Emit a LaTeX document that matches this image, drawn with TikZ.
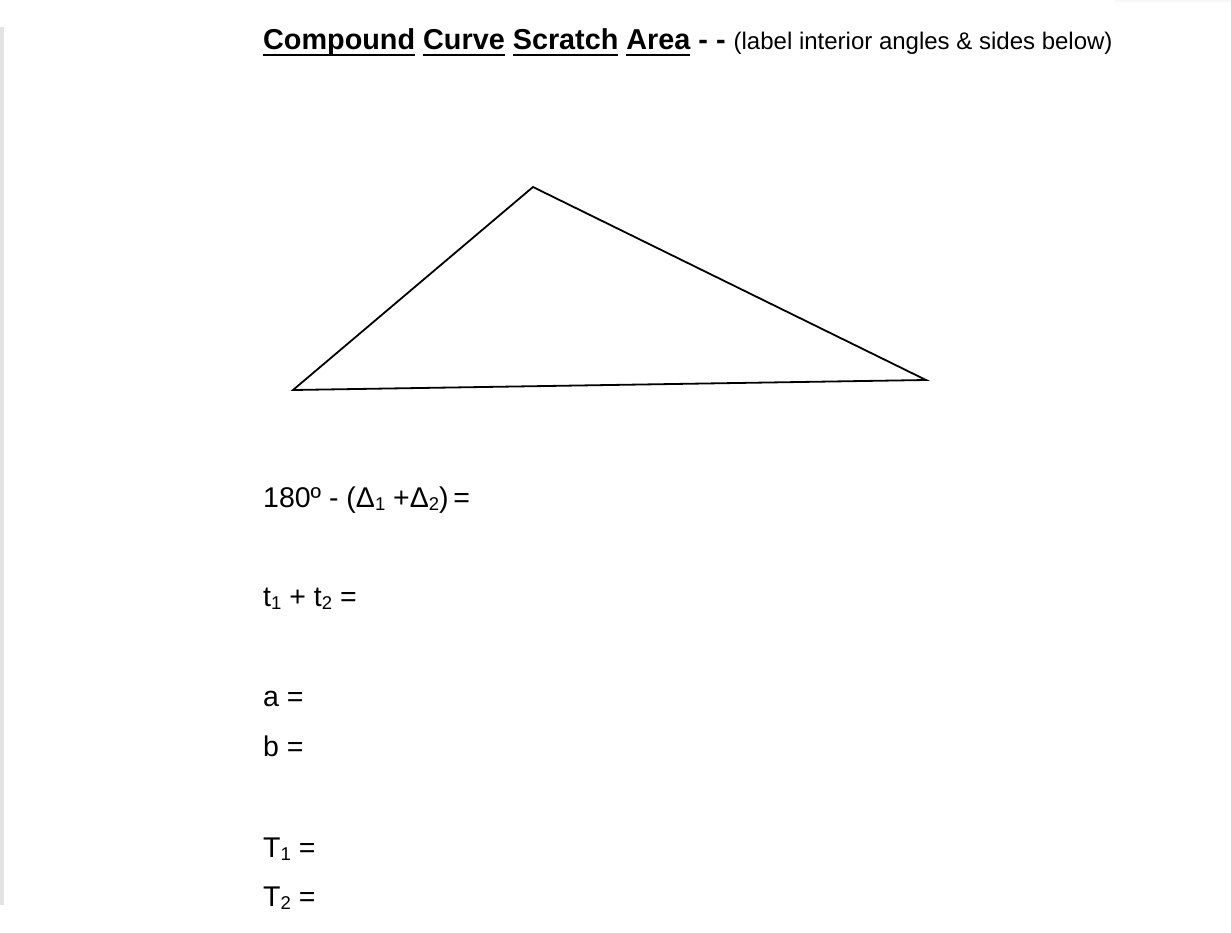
\documentclass[tikz,border=0pt]{standalone}
\usepackage{fontspec}
\setmainfont{Liberation Sans}
\newcommand\ulw[1]{\setbox0\hbox{#1}\rlap{\rule[-6.8pt]{\wd0}{2.2pt}}\box0\relax}
\newcommand\sbs[1]{\raisebox{-3pt}{\fontsize{18.5}{19}\selectfont #1}}
\tikzset{
  txt/.style={anchor=base west, inner sep=0pt, font=\fontsize{28.5}{32}\selectfont},
  edge/.style={line width=1.8pt, line join=miter},
}
\begin{document}
\begin{tikzpicture}[x=1pt, y=-1pt]
\useasboundingbox (0,0) rectangle (1231,932);
% page edge marks
\fill[gray!22] (0,27) rectangle (4,905);
\fill[gray!6] (1115,0) rectangle (1231,2);
% title
\node[anchor=base west, inner sep=0pt] (title) at (263,49)
  {\fontsize{28.8}{30}\selectfont\bfseries \ulw{Compound} \ulw{Curve} \ulw{Scratch} \ulw{Area} - - {\fontsize{24}{28}\selectfont\mdseries(label interior angles \& sides below)}};
% triangle
\coordinate (top) at (533,187);
\coordinate (left) at (293,390);
\coordinate (right) at (926,380);
\draw[edge] (left) -- (top) -- (right) -- cycle;
% formulas
\node[txt] (f1) at (263,507) {180º - (Δ\sbs{1} +Δ\sbs{2})\,=};
\node[txt] (f2) at (263,606) {t\sbs{1} + t\sbs{2} =};
\node[txt] (f3) at (263,706) {a =};
\node[txt] (f4) at (263,756) {b =};
\node[txt] (f5) at (263,857) {T\sbs{1} =};
\node[txt] (f6) at (263,906) {T\sbs{2} =};
\end{tikzpicture}
\end{document}
